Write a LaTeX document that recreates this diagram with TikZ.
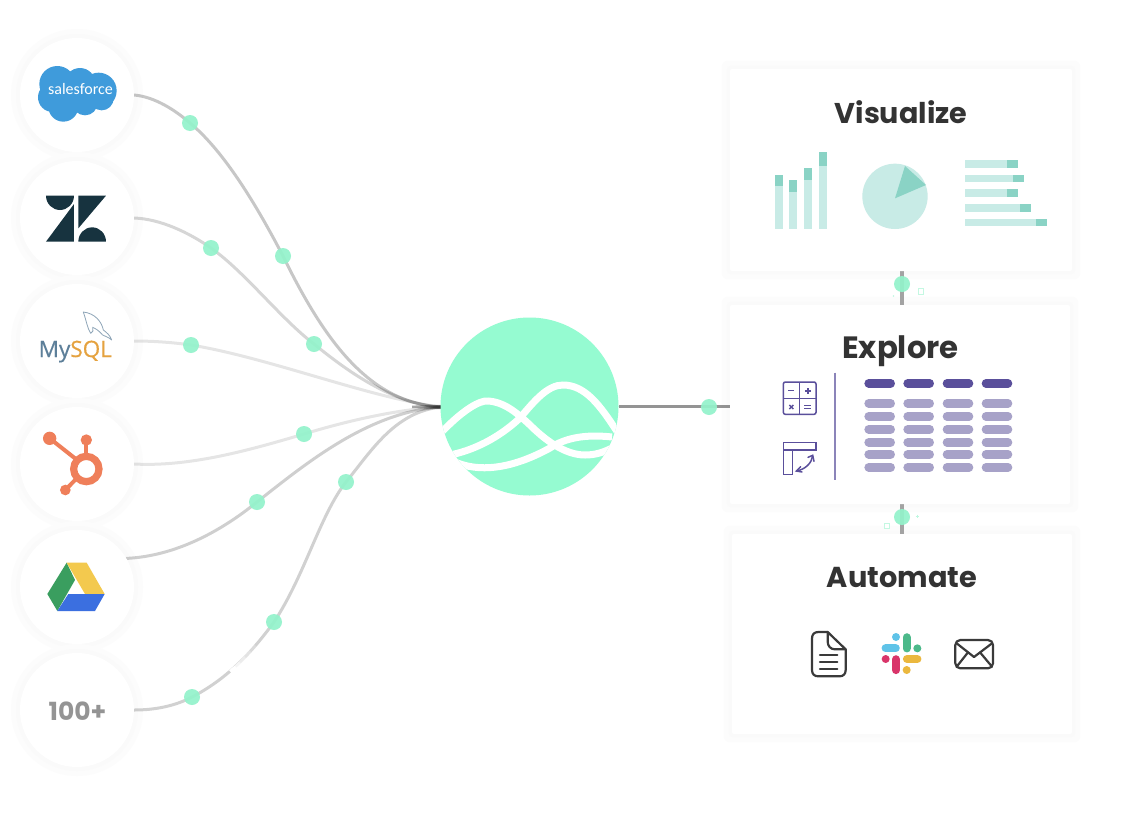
\documentclass[tikz,border=0pt]{standalone}
\usepackage{fontspec}
\setmainfont{Poppins}
\newfontfamily\sfcloud{Carlito}
\newfontfamily\mysqlfont{Open Sans}
\usetikzlibrary{calc}
\pgfdeclarelayer{halo}\pgfdeclarelayer{lines}
\pgfsetlayers{halo,lines,main}
\definecolor{mint}{HTML}{95FBD1}
\definecolor{dotmint}{HTML}{93F3CB}
\definecolor{inktext}{HTML}{333333}
\definecolor{lightteal}{HTML}{C8EBE6}
\definecolor{darkteal}{HTML}{8AD3C5}
\definecolor{purp}{HTML}{5A4F9B}
\definecolor{lightpurp}{HTML}{A7A2C8}
\definecolor{iconink}{HTML}{3A3A3A}
\definecolor{sfblue}{HTML}{3F9BDB}
\definecolor{zd}{HTML}{17333F}
\definecolor{hs}{HTML}{EF7F5A}
\definecolor{gdg}{HTML}{3A9E5F}
\definecolor{gdy}{HTML}{F3C94E}
\definecolor{gdb}{HTML}{3B6FE0}
\definecolor{mya}{HTML}{5D7F99}
\definecolor{myb}{HTML}{E5A23F}
\definecolor{sa}{HTML}{5FC3E8}
\definecolor{sb}{HTML}{4CB98A}
\definecolor{sc}{HTML}{D9356A}
\definecolor{sd}{HTML}{EBB83E}
\tikzset{
  source/.style={circle,fill=white,minimum size=114pt,inner sep=0pt},
  dotnode/.style={circle,fill=dotmint,fill opacity=.92,minimum size=16pt,inner sep=0pt},
  card/.style={rectangle,fill=white,rounded corners=2pt,inner sep=0pt},
  title/.style={font=\bfseries\fontsize{#1}{30}\selectfont,text=inktext,inner sep=0pt},
  flow/.style={line width=3pt,draw=black,line cap=round},
  link/.style={line width=3.8pt,draw=black!36},
  spark/.style={draw=dotmint!55,line width=.9pt,fill=white},
  pill/.style={line width=8.6pt,line cap=round},
  zicon/.style={draw=purp,line width=1.5pt},
  dicon/.style={draw=iconink,line width=2.2pt,line cap=round,line join=round}
}
\begin{document}
\begin{tikzpicture}[x=1pt,y=-1pt]
\useasboundingbox (0,0) rectangle (1124,830);
\begin{pgfonlayer}{halo}
\fill[white] (0,0) rectangle (1124,830);
\end{pgfonlayer}
% sources
\foreach \n/\yy in {s1/95,s2/218,s3/341,s4/464,s5/587,s6/710}{
  \node[source] (\n) at (77,\yy) {};
  \begin{pgfonlayer}{halo}
    \fill[black!1] (77,\yy) circle (66);
    \fill[black!2] (77,\yy) circle (61);
  \end{pgfonlayer}
}
% hub
\node[circle,fill=mint,minimum size=178pt,inner sep=0pt] (hub) at (529.5,406.5) {};
\coordinate (tip) at (441,407);
% cards
\node[card,minimum width=342pt,minimum height=202pt] (vis) at (901,170) {};
\node[card,minimum width=340pt,minimum height=199pt] (exp) at (900,404.5) {};
\node[card,minimum width=340pt,minimum height=200pt] (aut) at (902,634) {};
\begin{pgfonlayer}{halo}
  \foreach \c in {vis,exp,aut}{
    \fill[black!1,rounded corners=6pt] ($(\c.south west)+(-8,8)$) rectangle ($(\c.north east)+(8,-8)$);
    \fill[black!2,rounded corners=4pt] ($(\c.south west)+(-3,3)$) rectangle ($(\c.north east)+(3,-3)$);
  }
\end{pgfonlayer}
% dots
\node[dotnode] (d1a) at (190,123) {};
\node[dotnode] (d1b) at (283,256) {};
\node[dotnode] (d2a) at (211,248) {};
\node[dotnode] (d2b) at (314,344) {};
\node[dotnode] (d3) at (191,345) {};
\node[dotnode] (d4) at (304,434) {};
\node[dotnode] (d5) at (257,502) {};
\node[dotnode] (d6a) at (192,697) {};
\node[dotnode] (d6b) at (274,622) {};
\node[dotnode] (d6c) at (346,482) {};
\node[dotnode] (dh) at (709,407) {};
\node[dotnode] (dv) at (902,284) {};
\node[dotnode] (da) at (902,517) {};
% connectors
\begin{pgfonlayer}{lines}
\draw[flow,draw opacity=.22] (s1.east) .. controls (155,97) and (175,110) .. (d1a.center)
  .. controls (225,152) and (258,208) .. (d1b.center)
  .. controls (325,342) and (370,403) .. (tip);
\draw[flow,draw opacity=.16] (s2.east) .. controls (160,219) and (188,232) .. (d2a.center)
  .. controls (245,272) and (280,318) .. (d2b.center)
  .. controls (352,375) and (395,404) .. (tip);
\draw[flow,draw opacity=.10] (s3.east) .. controls (150,341) and (170,342) .. (d3.center)
  .. controls (270,358) and (370,398) .. (tip);
\draw[flow,draw opacity=.10] (s4.east) .. controls (190,467) and (250,450) .. (d4.center)
  .. controls (350,420) and (400,409) .. (tip);
\draw[flow,draw opacity=.19] (s5.30) .. controls (175,556) and (220,532) .. (d5.center)
  .. controls (310,460) and (370,412) .. (tip);
\draw[flow,draw opacity=.18] (s6.east) .. controls (155,710) and (175,706) .. (d6a.center)
  .. controls (225,680) and (250,655) .. (d6b.center)
  .. controls (305,575) and (320,515) .. (d6c.center)
  .. controls (372,450) and (395,412) .. (tip);
\foreach \xa/\ya/\xb/\yb/\op in {231/672.5/236.5/668/1,236.5/668/241/663.5/.8,241/663.5/246/658/.6,246/658/251/652/.4,251/652/256/646/.2}{
  \draw[white,line width=6pt,opacity=\op] (\xa,\ya) -- (\xb,\yb);
}
\fill[black,opacity=.35] (412,405.6) -- (tip |- 0,404.8) -- (tip |- 0,409.2) -- (412,408) -- cycle;
\draw[line width=3pt,draw=black,draw opacity=.42] (hub.east) -- (exp.west |- hub.east);
\draw[link] (vis.south -| dv) -- (exp.north -| dv);
\draw[link] (exp.south -| da) -- (aut.north -| da);
\end{pgfonlayer}
% sparks
\draw[spark] (918,288.5) rectangle (923.5,294);
\draw[spark] (884,523) rectangle (889.5,528.5);
\fill[dotmint!60] (893.5,296) circle (.9);
\draw[dotmint!60,line width=.5pt] (915.5,516.5) -- (919,516.5) (917.2,514.8) -- (917.2,518.2);
% salesforce logo (zoom coords)
\begin{scope}[shift={(0,20)},scale=1/3]
  \fill[sfblue] (172,192) circle (54) (240,190) circle (46) (296,212) circle (54) (158,232) circle (44)
     (190,260) circle (45) (255,248) circle (38) (305,235) circle (36);
\end{scope}
\node[text=white,font=\sfcloud\fontsize{16}{18}\selectfont,inner sep=0pt] (sftext) at (80.5,89) {salesforce};
% zendesk
\begin{scope}[shift={(0,20)},scale=1/3]
  \fill[zd] (138,527) -- (222,527) arc[start angle=0,end angle=180,x radius=42,y radius=43] -- cycle;
  \fill[zd] (222,552) -- (222,665) -- (138,665) -- cycle;
  \fill[zd] (235,527) -- (318,527) -- (235,625) -- cycle;
  \fill[zd] (235,665) arc[start angle=180,end angle=0,x radius=41.5,y radius=-43] -- cycle;
\end{scope}
% mysql
\node[anchor=base west,inner sep=0pt,font=\mysqlfont\fontsize{22.5}{24}\selectfont\addfontfeature{FakeBold=.5}] (mysqla) at (38.5,357) {\textcolor{mya}{My}\textcolor{myb}{SQL}};
\begin{scope}[shift={(0,20)},scale=1/3]
  \draw[draw=mya!70,line width=.8pt,line join=round,line cap=round]
   (250,876) .. controls (285,880) and (305,905) .. (310,930) .. controls (320,938) and (330,945) .. (335,960)
   .. controls (325,950) and (315,950) .. (308,945) .. controls (295,930) and (285,925) .. (278,922)
   .. controls (280,930) and (280,938) .. (272,940) .. controls (262,925) and (260,905) .. (250,876);
\end{scope}
% hubspot
\begin{scope}[shift={(0,400)},scale=1/3]
  \draw[hs,line width=4pt] (149,115) -- (225,175);
  \draw[hs,line width=4pt] (259,120) -- (259,180);
  \draw[hs,line width=4pt] (196,270) -- (230,235);
  \fill[hs] (149,115) circle (20) (259,120) circle (17) (196,270) circle (16);
  \draw[hs,line width=7.2pt] (259,207) circle (38);
\end{scope}
% drive
\begin{scope}[shift={(0,400)},scale=1/3]
  \fill[gdg] (200,488) -- (142,582) -- (172,633) -- (225,540) -- cycle;
  \fill[gdy] (200,488) -- (260,488) -- (314,582) -- (255,582) -- cycle;
  \fill[gdb] (172,633) -- (285,633) -- (314,582) -- (205,582) -- cycle;
\end{scope}
\node[font=\bfseries\fontsize{25}{26}\selectfont,text=black!42,inner sep=0pt] (more) at (77.5,711.5) {100+};
% titles
\node[title=28.6] (tv) at (901,112.5) {Visualize};
\node[title=30.8] (te) at (900.5,351) {Explore};
\node[title=28.8] (ta) at (902,577) {Automate};
% hub waves
\begin{scope}
  \clip (hub.center) circle (89);
  \draw[white,line width=7pt] (438,436) .. controls (462,410) and (480,400) .. (488,401)
     .. controls (505,402) and (518,414) .. (530,425)
     .. controls (545,440) and (565,455) .. (585,455) .. controls (596,455) and (604,452) .. (612,448);
  \draw[white,line width=7pt] (445,456) .. controls (480,450) and (505,432) .. (520,418)
     .. controls (535,400) and (548,385) .. (563,385) .. controls (585,385) and (600,405) .. (618,433);
  \draw[white,line width=7pt] (455,462) .. controls (478,472) and (510,470) .. (550,448)
     .. controls (565,438) and (585,434) .. (612,437);
\end{scope}
% bar chart
\begin{scope}[shift={(730,60)},scale=1/3]
  \foreach \a/\b/\t/\m in {135/159/345/378,178/201/360/395,222/246/325/360,267/291/276/317}{
    \fill[lightteal] (\a,\m) rectangle (\b,506);
    \fill[darkteal] (\a,\t) rectangle (\b,\m);
  }
  \fill[lightteal] (495,409) circle (98);
  \fill[darkteal] (495,415) -- (525,318) -- (588,375) -- cycle;
  \foreach \y/\e/\s in {300/865/832,344/881/849,388/865/832,432/903/870,476/952/919}{
    \fill[lightteal] (705,\y) rectangle (\s,\y+23);
    \fill[darkteal] (\s,\y) rectangle (\e,\y+23);
  }
\end{scope}
% explore
\begin{scope}[shift={(730,270)},scale=1/3]
  \draw[draw=purp!70,line width=1.7pt] (315,308) -- (315,630);
  \foreach \x in {416,533,651,768}{
    \draw[purp,pill] (\x,340) -- (\x+66,340);
    \foreach \y in {400,439,478,517,553,592}{
      \draw[lightpurp,pill] (\x,\y) -- (\x+66,\y);
    }
  }
  \draw[zicon,rounded corners=2pt] (160,336) rectangle (258,433);
  \draw[zicon] (209,336) -- (209,433) (160,385) -- (258,385);
  \draw[zicon] (175,361) -- (192,361);
  \draw[zicon] (225,363) -- (242,363) (233.5,355) -- (233.5,371);
  \draw[zicon] (178,405) -- (190,417) (190,405) -- (178,417);
  \draw[zicon] (223,407) -- (242,407) (223,415) -- (242,415);
  \draw[zicon] (160,518) rectangle (258,540);
  \draw[zicon] (160,540) rectangle (187,614);
  \draw[zicon,line cap=round] (200,603) .. controls (225,598) and (245,580) .. (248,558);
  \draw[zicon,line cap=round] (212,590) -- (199,603) -- (216,606);
  \draw[zicon,line cap=round] (234,562) -- (248,556) -- (252,574);
\end{scope}
% automate
\begin{scope}[shift={(780,550)},scale=1/3]
  \draw[dicon] (143,246) -- (115,246) .. controls (103,246) and (96,253) .. (96,265) -- (96,360)
    .. controls (96,372) and (103,379) .. (115,379) -- (178,379) .. controls (190,379) and (197,372) .. (197,360)
    -- (197,298) -- cycle;
  \draw[dicon] (143,246) -- (143,275) .. controls (143,288) and (152,298) .. (165,298) -- (197,298);
  \draw[dicon] (120,316) -- (172,316) (120,336) -- (172,336) (120,357) -- (172,357);
  \draw[dicon,rounded corners=5pt] (526,270) rectangle (639,355);
  \draw[dicon] (530,280) -- (582,321) -- (636,280);
  \draw[dicon] (530,350) -- (564,307) (636,350) -- (600,307);
  % slack
  \draw[sa,line width=8.2pt,line cap=round] (317,295) -- (347,295);
  \fill[sa] (348,261) circle (12);
  \draw[sb,line width=8.2pt,line cap=round] (380,262) -- (380,295);
  \fill[sb] (412,295) circle (12);
  \draw[sc,line width=8.2pt,line cap=round] (348,328) -- (348,360);
  \fill[sc] (317,327) circle (12);
  \draw[sd,line width=8.2pt,line cap=round] (381,327) -- (412,327);
  \fill[sd] (380,360) circle (12);
\end{scope}
\end{tikzpicture}
\end{document}
